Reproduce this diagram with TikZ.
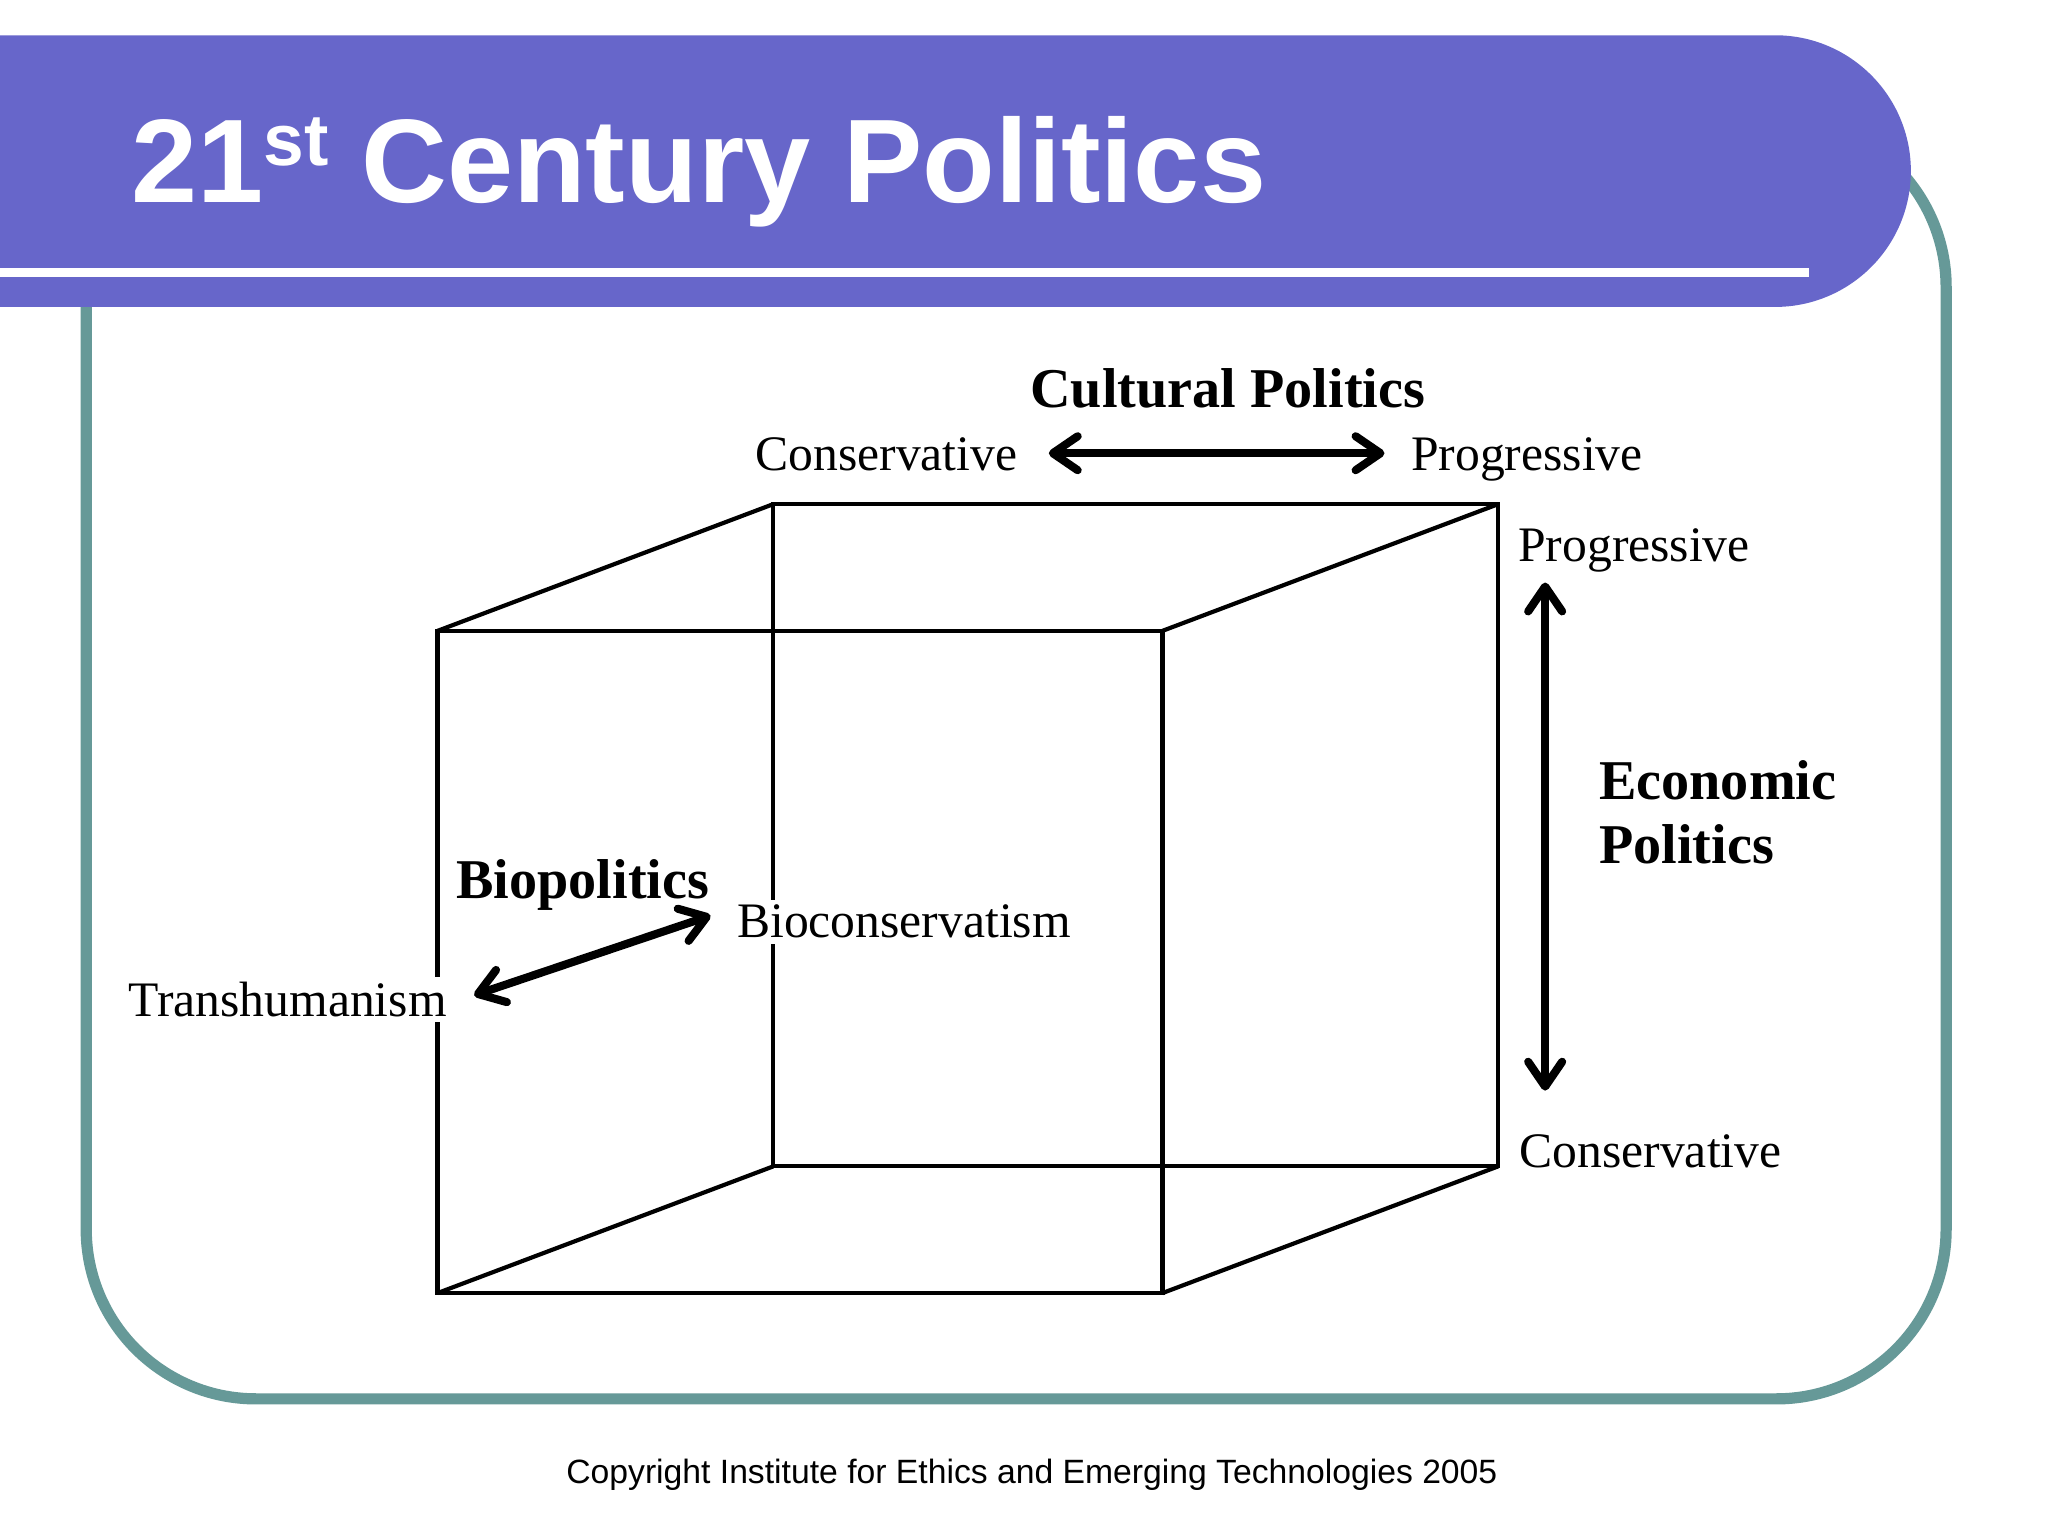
\documentclass[tikz,border=0pt]{standalone}
\usepackage{fontspec}
\setmainfont{Liberation Serif}
\newfontfamily\arialf{Liberation Sans}
\usetikzlibrary{arrows.meta}
\definecolor{bannerblue}{RGB}{103,102,202}
\definecolor{frameteal}{RGB}{102,153,152}
\begin{document}
\begin{tikzpicture}[x=0.5pt,y=-0.5pt,
  cubeline/.style={line width=1.6pt, line join=miter},
  lbl/.style={font=\fontsize{19}{22}\selectfont, anchor=base west, inner xsep=1.5pt, inner ysep=2pt, fill=white},
  blbl/.style={font=\fontsize{21.5}{24.5}\selectfont\bfseries, anchor=base west, inner sep=0pt},
  dbl/.style={line width=3.1pt, {Straight Barb[length=9.5pt,width=13pt,line cap=round,line join=round]}-{Straight Barb[length=9.5pt,width=13pt,line cap=round,line join=round]}},
]
\useasboundingbox (0,0) rectangle (1568,1176);
\fill[white] (0,0) rectangle (1568,1176);
\begin{scope}
\clip (0,0) rectangle (1568,1176);
% frame
\draw[frameteal, line width=4.3pt, rounded corners=65pt] (66,90) rectangle (1490,1071);
% banner
\fill[bannerblue, rounded corners=52pt] (-200,27) rectangle (1463,235);
\fill[white] (-10,205) rectangle (1385,212);
\end{scope}
\node[anchor=base west, inner sep=0pt, text=white, font=\arialf\bfseries\fontsize{45.5}{50}\selectfont] (title) at (100,155)
  {21\raisebox{14pt}{\fontsize{28}{30}\selectfont st} Century Politics};

% cube
\coordinate (F1) at (335,483);
\coordinate (F2) at (890,483);
\coordinate (F3) at (890,990);
\coordinate (F4) at (335,990);
\coordinate (B1) at (592,386);
\coordinate (B2) at (1147,386);
\coordinate (B3) at (1147,893);
\coordinate (B4) at (592,893);
\draw[cubeline] (F1) -- (F2) -- (F3) -- (F4) -- cycle;
\draw[cubeline] (B1) -- (B2) -- (B3) -- (B4) -- cycle;
\draw[cubeline] (F1) -- (B1);
\draw[cubeline] (F2) -- (B2);
\draw[cubeline] (F3) -- (B3);
\draw[cubeline] (F4) -- (B4);

% labels
\node[blbl, anchor=base] (cult) at (940,312) {Cultural Politics};
\node[lbl] (consT) at (575,360) {Conservative};
\node[lbl] (progT) at (1077,360) {Progressive};
\node[lbl] (progR) at (1159,430) {Progressive};
\node[lbl] (consR) at (1160,894) {Conservative};
\node[blbl] (econ1) at (1224,612) {Economic};
\node[blbl] (econ2) at (1224,661) {Politics};
\node[blbl] (biop) at (349,688) {Biopolitics};
\node[lbl] (trans) at (95,778) {Transhumanism};
\node[lbl] (biocons) at (561,718) {Bioconservatism};
\node[anchor=base, inner sep=0pt, font=\arialf\fontsize{12.9}{15}\selectfont] (copy) at (790,1136)
  {Copyright Institute for Ethics and Emerging Technologies 2005};

% arrows
\coordinate (c1) at (803,347);
\coordinate (c2) at (1060,347);
\coordinate (e1) at (1183,446);
\coordinate (e2) at (1183,835);
\coordinate (b1) at (363,762);
\coordinate (b2) at (544,701);
\draw[dbl] (c1) -- (c2);
\draw[dbl] (e1) -- (e2);
\draw[dbl] (b1) -- (b2);
\end{tikzpicture}
\end{document}
